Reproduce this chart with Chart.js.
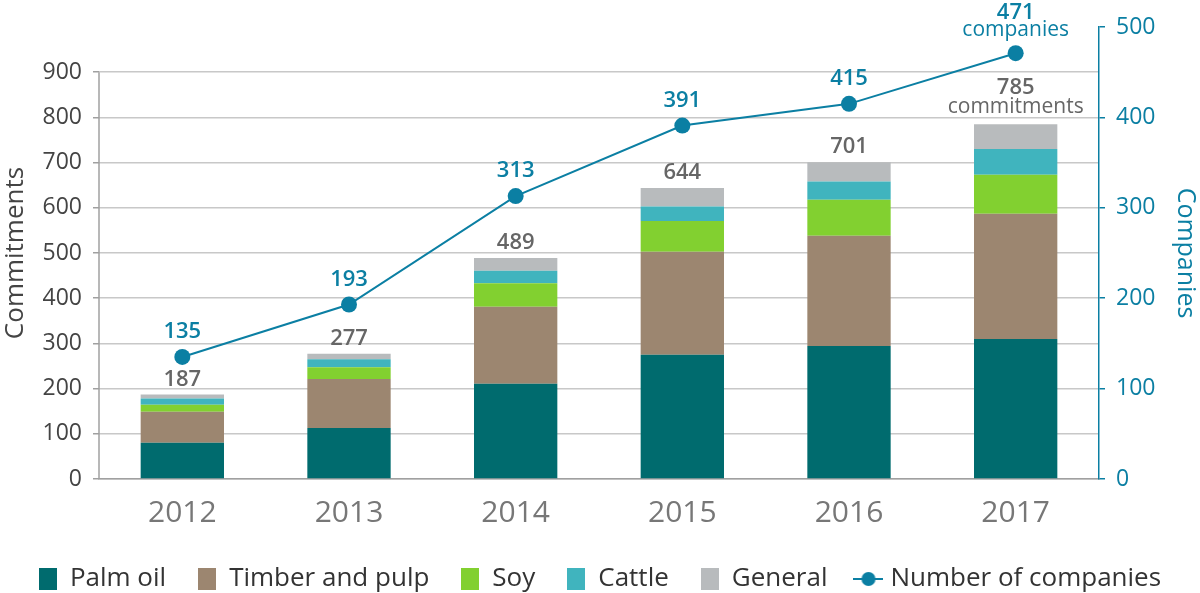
<!DOCTYPE html>
<html>
<head>
<meta charset="utf-8">
<script src="https://cdn.jsdelivr.net/npm/chart.js@4.4.0/dist/chart.umd.min.js"></script>
<style>
  html, body { margin: 0; padding: 0; background: #fff; }
  #wrap { width: 1200px; height: 593px; position: relative; }
</style>
</head>
<body>
<div id="wrap"><canvas id="myChart"></canvas></div>
<script>
// datos
const years = ['2012', '2013', '2014', '2015', '2016', '2017'];
const palmOil = [80, 113, 211, 275, 294, 310];
const timberPulp = [69, 108, 170, 228, 244, 277];
const soy = [15, 26, 52, 68, 80, 86];
const cattle = [14, 18, 28, 32, 40, 57];
const general = [9, 12, 28, 41, 43, 55];
const companies = [135, 193, 313, 391, 415, 471];
const leftTicks = [0, 100, 200, 300, 400, 500, 600, 700, 800, 900];

const FONT = '"Open Sans", "DejaVu Sans", sans-serif';
const BLUE = '#0b7fa3';

// iconos de la leyenda
function boxIcon(color) {
  const c = document.createElement('canvas');
  c.width = 18; c.height = 22;
  const g = c.getContext('2d');
  g.fillStyle = color;
  g.fillRect(0, 0, 18, 22);
  return c;
}
function lineIcon() {
  const c = document.createElement('canvas');
  c.width = 30; c.height = 18;
  const g = c.getContext('2d');
  g.strokeStyle = BLUE; g.lineWidth = 2;
  g.beginPath(); g.moveTo(0, 9); g.lineTo(30, 9); g.stroke();
  g.fillStyle = BLUE;
  g.beginPath(); g.arc(15, 9, 7, 0, Math.PI * 2); g.fill();
  return c;
}

// etiquetas de totales y de empresas
const labelsPlugin = {
  id: 'labelsPlugin',
  afterDatasetsDraw(chart) {
    const ctx = chart.ctx;
    const topMeta = chart.getDatasetMeta(4);
    const lineMeta = chart.getDatasetMeta(5);
    ctx.save();
    ctx.textAlign = 'center';
    ctx.textBaseline = 'middle';
    years.forEach((y, i) => {
      const total = palmOil[i] + timberPulp[i] + soy[i] + cattle[i] + general[i];
      const bar = topMeta.data[i];
      const last = i === years.length - 1;
      ctx.fillStyle = '#666';
      ctx.font = '600 22px ' + FONT;
      if (last) {
        ctx.fillText(total, bar.x, bar.y - 36);
        ctx.font = '21px ' + FONT;
        ctx.fillText('commitments', bar.x, bar.y - 17);
      } else {
        ctx.fillText(total, bar.x, bar.y - 15);
      }
      const pt = lineMeta.data[i];
      ctx.fillStyle = BLUE;
      ctx.font = '600 22px ' + FONT;
      if (last) {
        ctx.fillText(companies[i], pt.x, pt.y - 40);
        ctx.font = '21px ' + FONT;
        ctx.fillText('companies', pt.x, pt.y - 23);
      } else {
        ctx.fillText(companies[i], pt.x, pt.y - 25);
      }
    });
    ctx.restore();
  },
  beforeDatasetsDraw(chart) {
    // eje izquierdo solo hasta 900
    const s = chart.scales.y;
    const ctx = chart.ctx;
    ctx.save();
    ctx.strokeStyle = '#a0a0a0';
    ctx.lineWidth = 1.5;
    ctx.beginPath();
    ctx.moveTo(s.right, s.getPixelForValue(0));
    ctx.lineTo(s.right, s.getPixelForValue(900));
    ctx.stroke();
    ctx.restore();
  }
};

const legendColors = ['#006b6e', '#9c8670', '#82d030', '#40b4be', '#b8bbbd'];

new Chart(document.getElementById('myChart'), {
  data: {
    labels: years,
    datasets: [
      { type: 'bar', label: 'Palm oil', data: palmOil, backgroundColor: '#006b6e', yAxisID: 'y', order: 2 },
      { type: 'bar', label: 'Timber and pulp', data: timberPulp, backgroundColor: '#9c8670', yAxisID: 'y', order: 2 },
      { type: 'bar', label: 'Soy', data: soy, backgroundColor: '#82d030', yAxisID: 'y', order: 2 },
      { type: 'bar', label: 'Cattle', data: cattle, backgroundColor: '#40b4be', yAxisID: 'y', order: 2 },
      { type: 'bar', label: 'General', data: general, backgroundColor: '#b8bbbd', yAxisID: 'y', order: 2 },
      {
        type: 'line', label: 'Number of companies', data: companies, yAxisID: 'y1', order: 1,
        borderColor: BLUE, backgroundColor: BLUE, borderWidth: 2,
        pointRadius: 8, pointHoverRadius: 8, pointBackgroundColor: BLUE, pointBorderWidth: 0,
        tension: 0, stack: 'line'
      }
    ]
  },
  options: {
    responsive: true,
    maintainAspectRatio: false,
    animation: false,
    datasets: { bar: { barPercentage: 0.5, categoryPercentage: 1.0 } },
    layout: { padding: { top: 27, left: 0, right: 0, bottom: -9 } },
    scales: {
      x: {
        stacked: true,
        grid: { display: false },
        border: { color: '#a0a0a0', width: 1.5 },
        ticks: { color: '#777', font: { family: FONT, size: 30 }, padding: 8 },
        afterFit: s => { s.height = 55; }
      },
      y: {
        stacked: true,
        position: 'left',
        min: 0, max: 1000,
        afterBuildTicks: s => { s.ticks = leftTicks.map(v => ({ value: v })); },
        ticks: { color: '#444', font: { family: FONT, size: 23 }, padding: 11 },
        grid: {
          color: '#c8c8c8', lineWidth: 1.5, tickLength: 6, tickColor: '#a0a0a0'
        },
        border: { display: false },
        title: { display: true, text: 'Commitments', color: '#444', font: { family: FONT, size: 26 }, padding: 0 },
        afterFit: s => { s.width = 99; }
      },
      y1: {
        position: 'right',
        min: 0, max: 500,
        ticks: { stepSize: 100, color: BLUE, font: { family: FONT, size: 23 }, padding: 11 },
        grid: { drawOnChartArea: false, tickLength: 6, tickColor: BLUE, lineWidth: 1.5 },
        border: { color: BLUE, width: 1.5 },
        title: { display: true, text: 'Companies', color: BLUE, font: { family: FONT, size: 25 }, padding: 0 },
        afterFit: s => { s.width = 101; }
      }
    },
    plugins: {
      legend: {
        position: 'bottom',
        labels: {
          usePointStyle: true,
          boxWidth: 18,
          color: '#333',
          font: { family: FONT, size: 26 },
          padding: 32,
          generateLabels: chart => chart.data.datasets.map((ds, i) => ({
            text: ds.label,
            pointStyle: i < 5 ? boxIcon(legendColors[i]) : lineIcon(),
            fillStyle: ds.backgroundColor,
            strokeStyle: ds.backgroundColor,
            lineWidth: 0,
            fontColor: '#333',
            hidden: false,
            datasetIndex: i
          }))
        }
      },
      tooltip: { enabled: false }
    }
  },
  plugins: [labelsPlugin]
});
</script>
</body>
</html>
